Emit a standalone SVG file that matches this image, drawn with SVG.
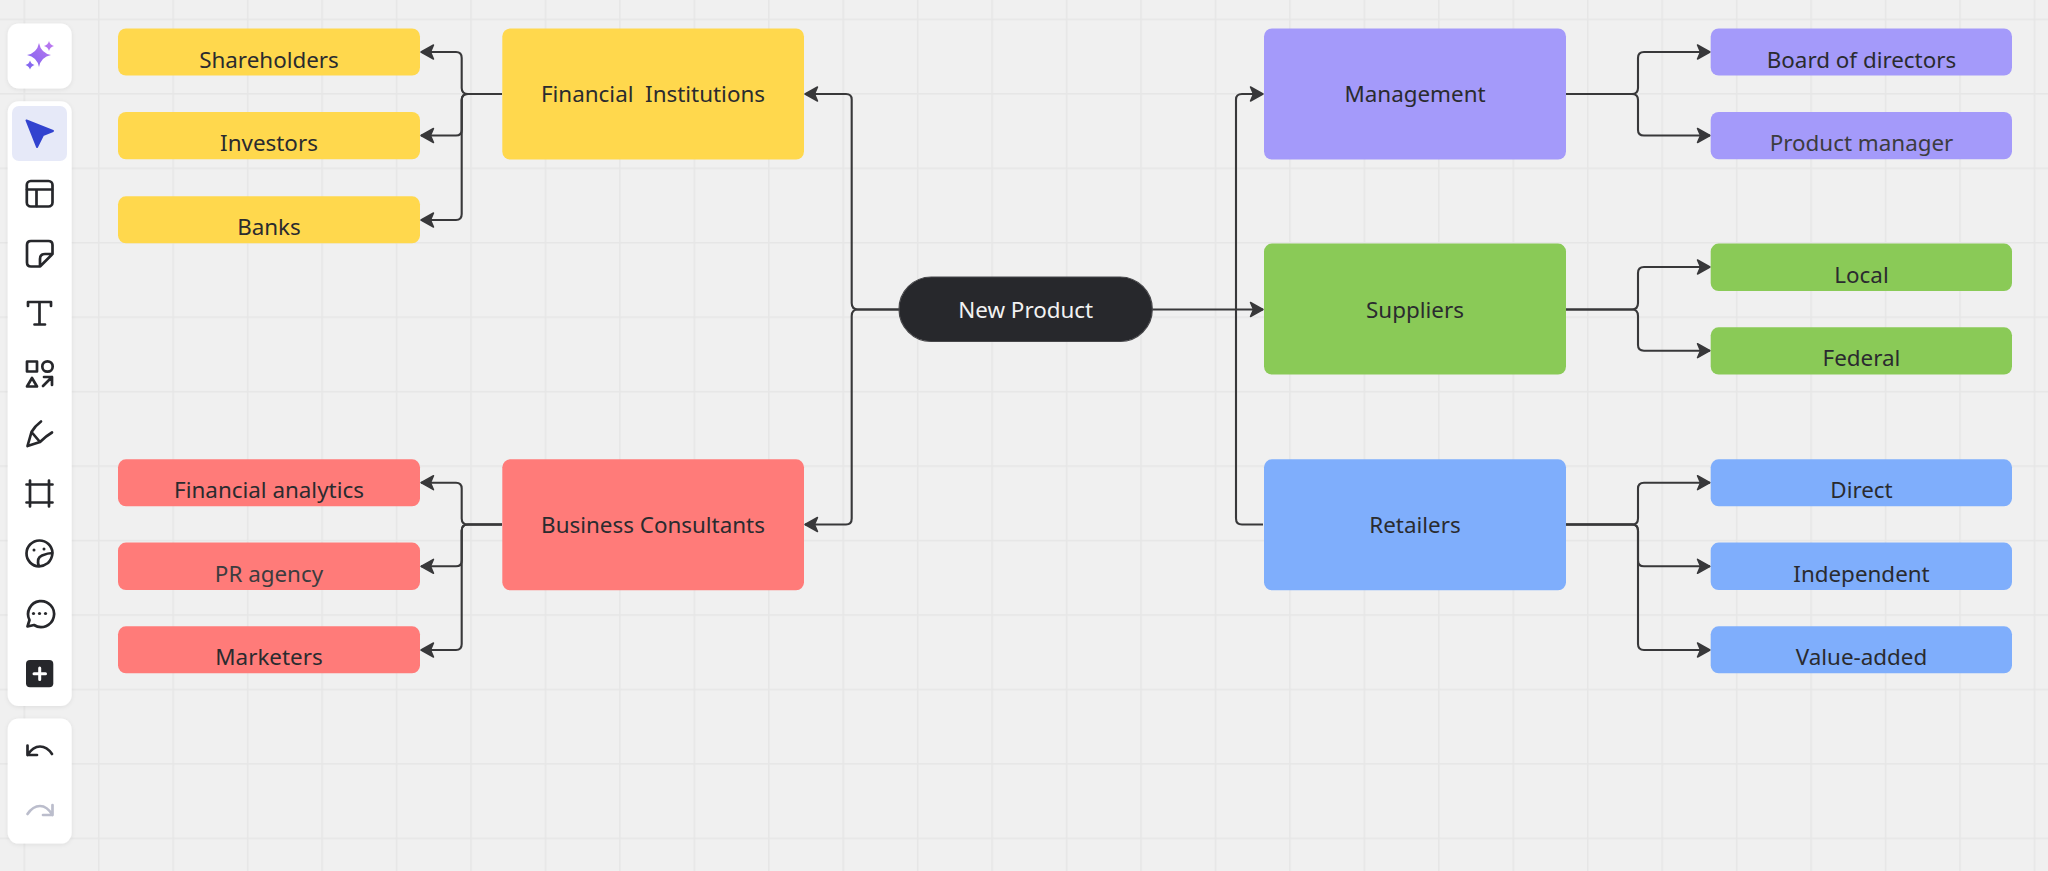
<svg xmlns="http://www.w3.org/2000/svg" width="2048" height="871" viewBox="0 0 2048 871">
<style>
.t{font-family:"Noto Sans","Open Sans","DejaVu Sans",sans-serif;font-size:22.4px;fill:#2a2b2f;text-anchor:middle}
.y{fill:#FFD84D}.p{fill:#A49AFA}.g{fill:#8ACA57}.b{fill:#7FAEFC}.r{fill:#FF7B79}
.c{fill:none;stroke:#38383a;stroke-width:2.1;stroke-linejoin:round}
.a{marker-end:url(#ah)}
.i{fill:none;stroke:#26272b;stroke-width:2.7;stroke-linecap:round;stroke-linejoin:round}
.panel{fill:#fff;filter:url(#sh)}
</style>
<defs>
<pattern id="grid" patternUnits="userSpaceOnUse" x="23.500" y="18.600" width="74.450" height="74.450">
<rect width="74.450" height="1.600" fill="#e6e6e6"/><rect width="1.600" height="74.450" fill="#e6e6e6"/>
</pattern>
<marker id="ah" markerUnits="userSpaceOnUse" markerWidth="18" markerHeight="20" refX="14" refY="9" orient="auto" overflow="visible">
<path d="M1.500,2 L14,9 L1.500,16 L4.500,9 Z" fill="#38383a" stroke="#38383a" stroke-width="1.500" stroke-linejoin="round"/>
</marker>
<linearGradient id="sp" x1="0" y1="1" x2="1" y2="0"><stop offset="0" stop-color="#7a63ef"/><stop offset="1" stop-color="#c27af0"/></linearGradient>
<filter id="sh" x="-20%" y="-20%" width="140%" height="140%"><feDropShadow dx="0" dy="1" stdDeviation="2" flood-color="#000" flood-opacity="0.08"/></filter>
</defs>
<rect width="2048" height="871" fill="#f0f0f0"/>
<rect width="2048" height="871" fill="url(#grid)"/>

<g id="connectors">
<path class="c a" d="M899,309.500 H858 Q851.700,309.500 851.700,303 V99.500 Q851.700,94 846,94 H805"/>
<path class="c a" d="M899,309.500 H858 Q851.700,309.500 851.700,316 V518.500 Q851.700,524.500 846,524.500 H805"/>
<path class="c a" d="M1152,309.500 H1263"/>
<path class="c a" d="M1263,524.500 H1242 Q1236,524.500 1236,518.500 V99.500 Q1236,94 1242,94 H1263"/>
<path class="c a" d="M502,94 H468 Q461.700,94 461.700,88 V58 Q461.700,52 456,52 H421"/>
<path class="c a" d="M502,94 H468 Q461.700,94 461.700,100 V130 Q461.700,135.500 456,135.500 H421"/>
<path class="c a" d="M502,94 H468 Q461.700,94 461.700,100 V214 Q461.700,220 456,220 H421"/>
<path class="c a" d="M502,524.500 H468 Q461.700,524.500 461.700,518.500 V488.500 Q461.700,482.700 456,482.700 H421"/>
<path class="c a" d="M502,524.500 H468 Q461.700,524.500 461.700,530.500 V560.500 Q461.700,566.300 456,566.300 H421"/>
<path class="c a" d="M502,524.500 H468 Q461.700,524.500 461.700,530.500 V644 Q461.700,650 456,650 H421"/>
<path class="c a" d="M1566,94 H1632 Q1638,94 1638,88 V58 Q1638,52 1644,52 H1710"/>
<path class="c a" d="M1566,94 H1632 Q1638,94 1638,100 V130 Q1638,135.500 1644,135.500 H1710"/>
<path class="c a" d="M1566,309.500 H1632 Q1638,309.500 1638,303 V273 Q1638,267 1644,267 H1710"/>
<path class="c a" d="M1566,309.500 H1632 Q1638,309.500 1638,316 V345 Q1638,350.700 1644,350.700 H1710"/>
<path class="c a" d="M1566,524.500 H1632 Q1638,524.500 1638,518.500 V488.500 Q1638,482.700 1644,482.700 H1710"/>
<path class="c a" d="M1566,524.500 H1632 Q1638,524.500 1638,530.500 V560.500 Q1638,566.300 1644,566.300 H1710"/>
<path class="c a" d="M1566,524.500 H1632 Q1638,524.500 1638,530.500 V644 Q1638,650 1644,650 H1710"/>
</g>

<g id="node-shareholders"><rect class="y" x="118" y="28.500" width="302" height="47" rx="8"/><text class="t" x="269" y="67.500">Shareholders</text></g>
<g id="node-investors"><rect class="y" x="118" y="112" width="302" height="47.300" rx="8"/><text class="t" x="269" y="151">Investors</text></g>
<g id="node-banks"><rect class="y" x="118" y="196.300" width="302" height="47" rx="8"/><text class="t" x="269" y="235.300">Banks</text></g>
<g id="node-financial"><rect class="y" x="502.300" y="28.500" width="301.700" height="131" rx="8"/><text class="t" x="653" y="102" xml:space="preserve">Financial  Institutions</text></g>
<g id="node-analytics"><rect class="r" x="118" y="459.300" width="302" height="47" rx="8"/><text class="t" x="269" y="498.300">Financial analytics</text></g>
<g id="node-pr"><rect class="r" x="118" y="542.600" width="302" height="47.400" rx="8"/><text class="t" x="269" y="581.700" style="fill:#3c3c3f">PR agency</text></g>
<g id="node-marketers"><rect class="r" x="118" y="626.300" width="302" height="47" rx="8"/><text class="t" x="269" y="665.300">Marketers</text></g>
<g id="node-consultants"><rect class="r" x="502.300" y="459.300" width="301.700" height="131" rx="8"/><text class="t" x="653" y="532.800">Business Consultants</text></g>
<g id="node-new-product"><rect x="899" y="277" width="253.300" height="64.500" rx="32.250" fill="#27282c" stroke="#47474a" stroke-width="1.200"/><text class="t" x="1025.700" y="317.500" style="fill:#f2f2f2">New Product</text></g>
<g id="node-management"><rect class="p" x="1264" y="28.500" width="302" height="131" rx="8"/><text class="t" x="1415" y="102">Management</text></g>
<g id="node-suppliers"><rect class="g" x="1264" y="243.600" width="302" height="131" rx="8"/><text class="t" x="1415" y="317.500">Suppliers</text></g>
<g id="node-retailers"><rect class="b" x="1264" y="459.300" width="302" height="131" rx="8"/><text class="t" x="1415" y="532.800">Retailers</text></g>
<g id="node-board"><rect class="p" x="1710.700" y="28.500" width="301.300" height="47" rx="8"/><text class="t" x="1861.500" y="67.500">Board of directors</text></g>
<g id="node-pm"><rect class="p" x="1710.700" y="112" width="301.300" height="47.300" rx="8"/><text class="t" x="1861.500" y="151" style="fill:#3c3c3f">Product manager</text></g>
<g id="node-local"><rect class="g" x="1710.700" y="243.600" width="301.300" height="47.400" rx="8"/><text class="t" x="1861.500" y="282.700">Local</text></g>
<g id="node-federal"><rect class="g" x="1710.700" y="327.300" width="301.300" height="47.300" rx="8"/><text class="t" x="1861.500" y="366">Federal</text></g>
<g id="node-direct"><rect class="b" x="1710.700" y="459.300" width="301.300" height="47" rx="8"/><text class="t" x="1861.500" y="498.300">Direct</text></g>
<g id="node-independent"><rect class="b" x="1710.700" y="542.600" width="301.300" height="47.400" rx="8"/><text class="t" x="1861.500" y="581.700">Independent</text></g>
<g id="node-value"><rect class="b" x="1710.700" y="626.300" width="301.300" height="47" rx="8"/><text class="t" x="1861.500" y="665.300">Value-added</text></g>

<g id="toolbar">
<rect class="panel" x="7.700" y="23.500" width="64" height="65" rx="11"/>
<rect class="panel" x="7.700" y="101.300" width="64" height="604.700" rx="11"/>
<rect class="panel" x="7.700" y="718.600" width="64" height="125" rx="11"/>
<path fill="url(#sp)" d="M39,43 Q41,53 51,55 Q41,57 39,67 Q37,57 27,55 Q37,53 39,43Z M49,41 Q50,45 54,46 Q50,47 49,51 Q48,47 44,46 Q48,45 49,41Z M30,60.500 Q31,64 34.500,65 Q31,66 30,69.500 Q29,66 25.500,65 Q29,64 30,60.500Z"/>
<rect x="12" y="106" width="55" height="55" rx="7" fill="#e6e9f8"/>
<path d="M26.500,120.500 L53,131 L43,135 L37,147 Z" fill="#3243cf" stroke="#3243cf" stroke-width="2" stroke-linejoin="round"/>
<rect class="i" x="26.800" y="181" width="25.700" height="25.500" rx="4"/><path class="i" d="M27,189.500 H52 M36.500,189.500 V206"/>
<path class="i" d="M31,241 H48.500 Q52.500,241 52.500,245 V254 L40,266.500 H31 Q27,266.500 27,262.500 V245 Q27,241 31,241Z M40,266.500 V259 Q40,254 45,254 H52.500"/>
<path class="i" d="M28,306 V302 H51 V306 M39.500,302 V324.500 M34.500,324.500 H45"/>
<rect class="i" x="27" y="361.500" width="10" height="10"/><circle class="i" cx="47.500" cy="366.500" r="5.200"/>
<path class="i" d="M32,378 L37,386.500 H27Z M43,386 L52,377 M44,377 H52 V385"/>
<path class="i" d="M27.500,446 L31.500,432 Q35,426 41,421.500 M27.500,446 L40,442 Q46,436 52,432.500 M31.500,432 L40,442"/>
<path class="i" d="M26.500,484.500 H52.500 M26.500,502.500 H52.500 M30,480.500 V506.500 M49,480.500 V506.500"/>
<path class="i" d="M52.500,553 A13,13 0 1 0 39,566.500 Q36,558 42,555.500 Q48,553 52.500,553 Q52,559 48,563 Q44,566 39,566.500"/>
<circle cx="34" cy="550" r="1.500" fill="#26272b"/><circle cx="44" cy="549" r="1.500" fill="#26272b"/>
<path class="i" d="M27.500,626.500 L29.500,620 A13,13 0 1 1 34,625 Z"/>
<circle cx="33.500" cy="613.500" r="1.600" fill="#26272b"/><circle cx="39.500" cy="613.500" r="1.600" fill="#26272b"/><circle cx="45.500" cy="613.500" r="1.600" fill="#26272b"/>
<rect x="26" y="660" width="27.300" height="27.300" rx="4" fill="#26272b"/>
<path d="M39.700,668 V679.500 M34,673.700 H45.500" stroke="#fff" stroke-width="3" stroke-linecap="round"/>
<path class="i" d="M27.500,745.500 V755 H37 M27.500,755 Q33,746.500 40,746.500 Q47,746.500 52,754"/>
<path class="i" style="stroke:#bbbdcc" d="M52.500,805 V815 H43 M52.500,815 Q47,806 40,806 Q33,806 27.500,814"/>
</g>
</svg>
